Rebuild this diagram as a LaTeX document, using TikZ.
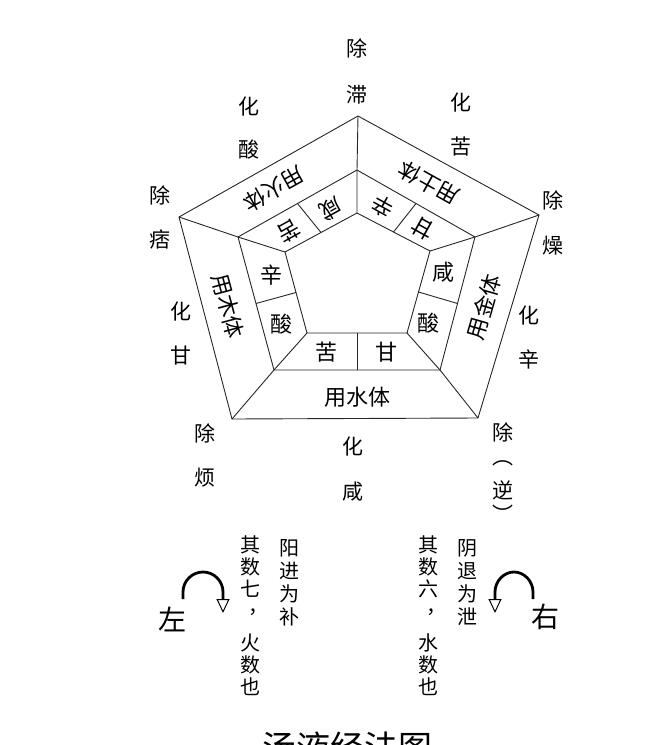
\documentclass[tikz,border=0pt]{standalone}
\usepackage{fontspec}
\setmainfont{Noto Sans CJK SC}
\usetikzlibrary{arrows.meta,calc}
\begin{document}
\begin{tikzpicture}[x=1pt,y=-1pt,line join=round,
  edge/.style={draw=black!85,line width=0.9pt},
  lbl/.style={font=\fontsize{21}{21}\selectfont,inner sep=0pt},
  bandtxt/.style={font=\fontsize{22}{22}\selectfont,inner sep=0pt},
  vtxt/.style={font=\fontsize{20}{20}\selectfont,inner sep=0pt},
  bigtxt/.style={font=\fontsize{28}{28}\selectfont,inner sep=0pt},
  turn/.style={line width=2.8pt,draw=black,
    -{Triangle[open,length=14pt,width=13pt,line width=1pt]}}]
\useasboundingbox (0,0) rectangle (667,745);
% outer pentagon
\coordinate (O1) at (358,116);
\coordinate (O2) at (539,215);
\coordinate (O3) at (478,418);
\coordinate (O4) at (232,419);
\coordinate (O5) at (179,217);
% middle pentagon
\coordinate (M1) at (357,170);
\coordinate (M2) at (475,237);
\coordinate (M3) at (440,370);
\coordinate (M4) at (274,370);
\coordinate (M5) at (238,237);
% inner pentagon
\coordinate (I1) at (357,213);
\coordinate (I2) at (430,251);
\coordinate (I3) at (407,333);
\coordinate (I4) at (307,333);
\coordinate (I5) at (285,252);
\draw[edge] (O1) -- (O2) -- (O3) -- (O4) -- (O5) -- cycle;
\draw[edge] (M1) -- (M2) -- (M3) -- (M4) -- (M5) -- cycle;
\draw[edge] (I1) -- (I2) -- (I3) -- (I4) -- (I5) -- cycle;
\foreach \k in {1,...,5}{\draw[edge] (O\k) -- (M\k) -- (I\k);}
\draw[edge] ($(M1)!0.5!(M2)$) -- ($(I1)!0.5!(I2)$);
\draw[edge] ($(M2)!0.5!(M3)$) -- ($(I2)!0.5!(I3)$);
\draw[edge] ($(M3)!0.5!(M4)$) -- ($(I3)!0.5!(I4)$);
\draw[edge] ($(M4)!0.5!(M5)$) -- ($(I4)!0.5!(I5)$);
\draw[edge] ($(M5)!0.5!(M1)$) -- ($(I5)!0.5!(I1)$);
% outer band texts
\node[bandtxt,rotate=-151] (fire) at (274,189) {用火体};
\node[bandtxt,rotate=151] (earth) at (429,183) {用土体};
\node[bandtxt,rotate=74] (metal) at (484,307) {用金体};
\node[bandtxt,rotate=-75] (wood) at (228,306) {用木体};
\node[bandtxt] (water) at (357,397) {用水体};
% inner band texts
\node[bandtxt,rotate=-151] (tlA) at (331,209) {咸};
\node[bandtxt,rotate=-151] (tlB) at (289,231) {苦};
\node[bandtxt,rotate=151] (trA) at (383,207) {辛};
\node[bandtxt,rotate=151] (trB) at (423,228) {甘};
\node[bandtxt] (rA) at (443,272) {咸};
\node[bandtxt] (rB) at (428,323) {酸};
\node[bandtxt] (lA) at (271,275) {辛};
\node[bandtxt] (lB) at (281,324) {酸};
\node[bandtxt] (bA) at (326,352) {苦};
\node[bandtxt] (bB) at (386,352) {甘};
% outer labels
\node[lbl] (t1) at (357,48) {除};
\node[lbl] (t2) at (357,95) {滞};
\node[lbl] (tr1) at (461,103) {化};
\node[lbl] (tr2) at (461,147) {苦};
\node[lbl] (tl1) at (249,107) {化};
\node[lbl] (tl2) at (249,150) {酸};
\node[lbl] (l1) at (160,195) {除};
\node[lbl] (l2) at (160,240) {痞};
\node[lbl] (r1) at (553,200) {除};
\node[lbl] (r2) at (553,246) {燥};
\node[lbl] (ml1) at (181,312) {化};
\node[lbl] (ml2) at (181,356) {甘};
\node[lbl] (mr1) at (529,316) {化};
\node[lbl] (mr2) at (529,359) {辛};
\node[lbl] (bl1) at (205,433) {除};
\node[lbl] (bl2) at (205,478) {烦};
\node[lbl] (b1) at (353,447) {化};
\node[lbl] (b2) at (353,492) {咸};
\node[lbl] (br1) at (503,432) {除};
\node[lbl] (br2) at (503,463) {︵};
\node[lbl] (br3) at (503,490) {逆};
\node[lbl] (br4) at (503,514) {︶};
% vertical texts
\foreach \c/\y [count=\i] in {阳/548,进/571,为/594,补/617}
  \node[vtxt] (la\i) at (289,\y) {\c};
\foreach \c/\y [count=\i] in {其/545,数/567,七/589,火/643,数/665,也/687}
  \node[vtxt] (lb\i) at (250,\y) {\c};
\node[vtxt] (lcomma) at (258,612) {，};
\foreach \c/\y [count=\i] in {阴/548,退/571,为/594,泄/617}
  \node[vtxt] (ra\i) at (467,\y) {\c};
\foreach \c/\y [count=\i] in {其/545,数/567,六/589,水/643,数/665,也/687}
  \node[vtxt] (rb\i) at (428,\y) {\c};
\node[vtxt] (rcomma) at (436,612) {，};
\node[bigtxt] (left) at (172,619) {左};
\node[bigtxt] (right) at (545,617) {右};
% turning arrows
\coordinate (LA) at (183,599);
\coordinate (LB) at (223,613);
\coordinate (RA) at (533,599);
\coordinate (RB) at (495,613);
\draw[turn] (LA) -- (183,592) .. controls (183,581) and (192,572) .. (203,572)
  .. controls (214,572) and (223,581) .. (223,592) -- (LB);
\draw[turn] (RA) -- (533,592) .. controls (533,581) and (524,572) .. (514,572)
  .. controls (504,572) and (495,581) .. (495,592) -- (RB);
% title (cut off at bottom edge)
\begin{scope}
\clip (0,0) rectangle (667,745);
\node[font=\fontsize{34}{34}\selectfont,inner sep=0pt] (title) at (347,748) {汤液经法图};
\end{scope}
\end{tikzpicture}
\end{document}
